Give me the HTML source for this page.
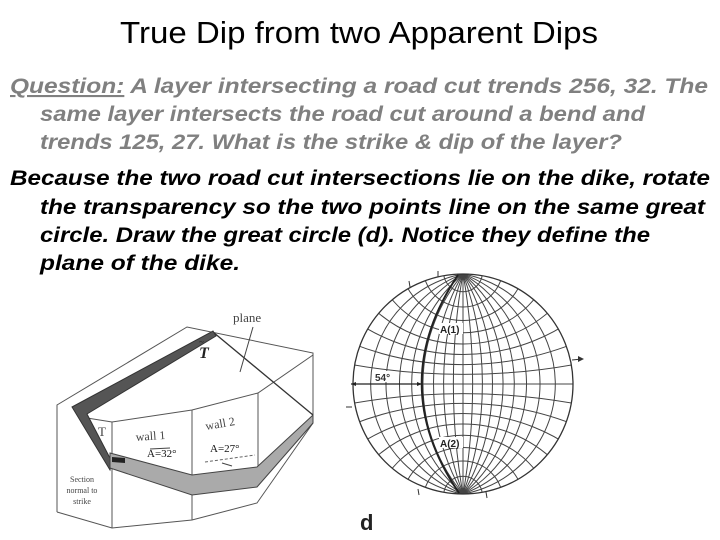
<!DOCTYPE html>
<html><head><meta charset="utf-8"><style>
html,body{margin:0;padding:0;background:#fff;width:720px;height:540px;overflow:hidden}
svg{display:block;position:absolute;left:0;top:0}
</style></head><body>
<svg id="s" width="720" height="540" viewBox="0 0 720 540" xmlns="http://www.w3.org/2000/svg">
<text x="359" y="43" font-family="Liberation Sans, sans-serif" font-size="31" text-anchor="middle" textLength="478" lengthAdjust="spacingAndGlyphs" fill="#000">True Dip from two Apparent Dips</text>
<g font-family="Liberation Sans, sans-serif" font-size="21" font-weight="bold" font-style="italic" fill="#808080">
<text x="10" y="93" textLength="698" lengthAdjust="spacingAndGlyphs"><tspan text-decoration="underline">Question:</tspan> A layer intersecting a road cut trends 256, 32.  The</text>
<text x="40" y="121" textLength="605" lengthAdjust="spacingAndGlyphs">same layer intersects the road cut around a bend and</text>
<text x="40" y="149" textLength="582" lengthAdjust="spacingAndGlyphs">trends 125, 27. What is the strike &amp; dip of the layer?</text>
</g>
<g font-family="Liberation Sans, sans-serif" font-size="21" font-weight="bold" font-style="italic" fill="#000">
<text x="10" y="185" textLength="700" lengthAdjust="spacingAndGlyphs">Because the two road cut intersections lie on the dike, rotate</text>
<text x="40" y="214" textLength="665" lengthAdjust="spacingAndGlyphs">the transparency so the two points line on the same great</text>
<text x="40" y="242" textLength="610" lengthAdjust="spacingAndGlyphs">circle. Draw the great circle (d). Notice they define the</text>
<text x="40" y="270" textLength="200" lengthAdjust="spacingAndGlyphs">plane of the dike.</text>
</g>
<!-- block diagram -->
<g stroke="#555" stroke-width="1" fill="none">
<polyline points="57,512 57,405 187,327 313,353 313,415"/>
<polyline points="57,512 112,528 192,520 257,503 313,423"/>
<line x1="112" y1="422" x2="112" y2="528"/>
<line x1="192" y1="410" x2="192" y2="520"/>
<line x1="258" y1="393" x2="258" y2="468"/>
<polyline points="87,418 112,422 192,410 258,393 313,355"/>
<line x1="213" y1="332" x2="313" y2="415" stroke="#333" stroke-width="1.3"/>
</g>
<polygon points="72,407 213,331 216,336 87,414 112,462 110,470" fill="#555" stroke="#333"/>
<polygon points="110,453 192,475 257,467 313,415 313,423 257,487 192,495 110,468" fill="#aaa" stroke="#444"/>
<polygon points="112,457 125,458 125,463 112,462" fill="#222"/>
<g font-family="Liberation Serif, serif" fill="#444">
<text x="233" y="322" font-size="13">plane</text>
<text x="136" y="440" font-size="12" transform="rotate(-4 150 440)">wall 1</text>
<text x="206" y="428" font-size="12" transform="rotate(-10 218 428)">wall 2</text>
<text x="147" y="457" font-size="11" fill="#111">A=32°</text>
<text x="210" y="452" font-size="11" fill="#111">A=27°</text>
<text x="98" y="436" font-size="13">T</text>
<text x="199" y="358" font-size="16" font-weight="bold" font-style="italic" fill="#222">T</text>
<text x="199" y="345" font-size="9" fill="#222">~</text>
<text x="82" y="482" font-size="8" text-anchor="middle">Section</text>
<text x="82" y="493" font-size="8" text-anchor="middle">normal to</text>
<text x="82" y="504" font-size="8" text-anchor="middle">strike</text>
</g>
<line x1="253" y1="327" x2="240" y2="372" stroke="#444"/>
<line x1="150" y1="449" x2="170" y2="448" stroke="#444"/>
<line x1="205" y1="462" x2="255" y2="455" stroke="#666" stroke-dasharray="3,2"/>
<line x1="222" y1="463" x2="232" y2="466" stroke="#444"/>
<!-- stereonet -->
<defs><clipPath id="cp"><circle cx="463" cy="384" r="110"/></clipPath></defs>
<g id="net" clip-path="url(#cp)" stroke="#444" stroke-width="1" fill="none"></g>
<circle cx="463" cy="384" r="110" stroke="#333" stroke-width="1.3" fill="none"/>
<path d="M458,275 Q385,384 459,493" stroke="#222" stroke-width="2" fill="none"/>
<line x1="351" y1="384" x2="422" y2="384" stroke="#222" stroke-width="1.2"/>
<polygon points="351,384 356,382 356,386" fill="#222"/>
<polygon points="422,384 417,382 417,386" fill="#222"/>
<rect x="372" y="371" width="22" height="11" fill="#fff"/>
<text x="375" y="381" font-family="Liberation Sans, sans-serif" font-size="10" font-weight="bold" fill="#333">54°</text>
<g font-family="Liberation Sans, sans-serif" font-size="10" font-weight="bold" fill="#222">
<rect x="439" y="323" width="24" height="11" fill="#fff"/><rect x="439" y="437" width="24" height="11" fill="#fff"/>
<text x="440" y="333">A(1)</text><text x="440" y="447">A(2)</text></g>
<g stroke="#333"><line x1="438" y1="271" x2="438" y2="277"/><line x1="409" y1="281" x2="410" y2="287"/><line x1="346" y1="407" x2="352" y2="407"/><line x1="418" y1="489" x2="419" y2="495"/><line x1="486" y1="492" x2="487" y2="498"/><line x1="572" y1="360" x2="582" y2="359"/></g>
<polygon points="584,359 578,356 578,362" fill="#333"/>
<text x="360" y="530" font-family="Liberation Sans, sans-serif" font-size="22" font-weight="bold" fill="#222">d</text>
</svg>
<script>
(function(){
var g=document.getElementById('net'),cx=463,cy=384,R=110,s='';
for(var d=10;d<90;d+=10){
 var x0=R*Math.tan((90-d)*Math.PI/360);
 var c=(x0*x0-R*R)/(2*x0), r=Math.sqrt(R*R+c*c);
 s+='<circle cx="'+(cx+c)+'" cy="'+cy+'" r="'+r+'"/>';
 s+='<circle cx="'+(cx-c)+'" cy="'+cy+'" r="'+r+'"/>';
}
s+='<line x1="'+cx+'" y1="'+(cy-R)+'" x2="'+cx+'" y2="'+(cy+R)+'"/>';
for(var a=10;a<90;a+=10){
 var t=a*Math.PI/180, k=R/Math.cos(t), rr=R*Math.tan(t);
 s+='<circle cx="'+cx+'" cy="'+(cy-k)+'" r="'+rr+'"/>';
 s+='<circle cx="'+cx+'" cy="'+(cy+k)+'" r="'+rr+'"/>';
}
s+='<line x1="'+(cx-R)+'" y1="'+cy+'" x2="'+(cx+R)+'" y2="'+cy+'"/>';
g.innerHTML=s;
})();
</script>
</body></html>
